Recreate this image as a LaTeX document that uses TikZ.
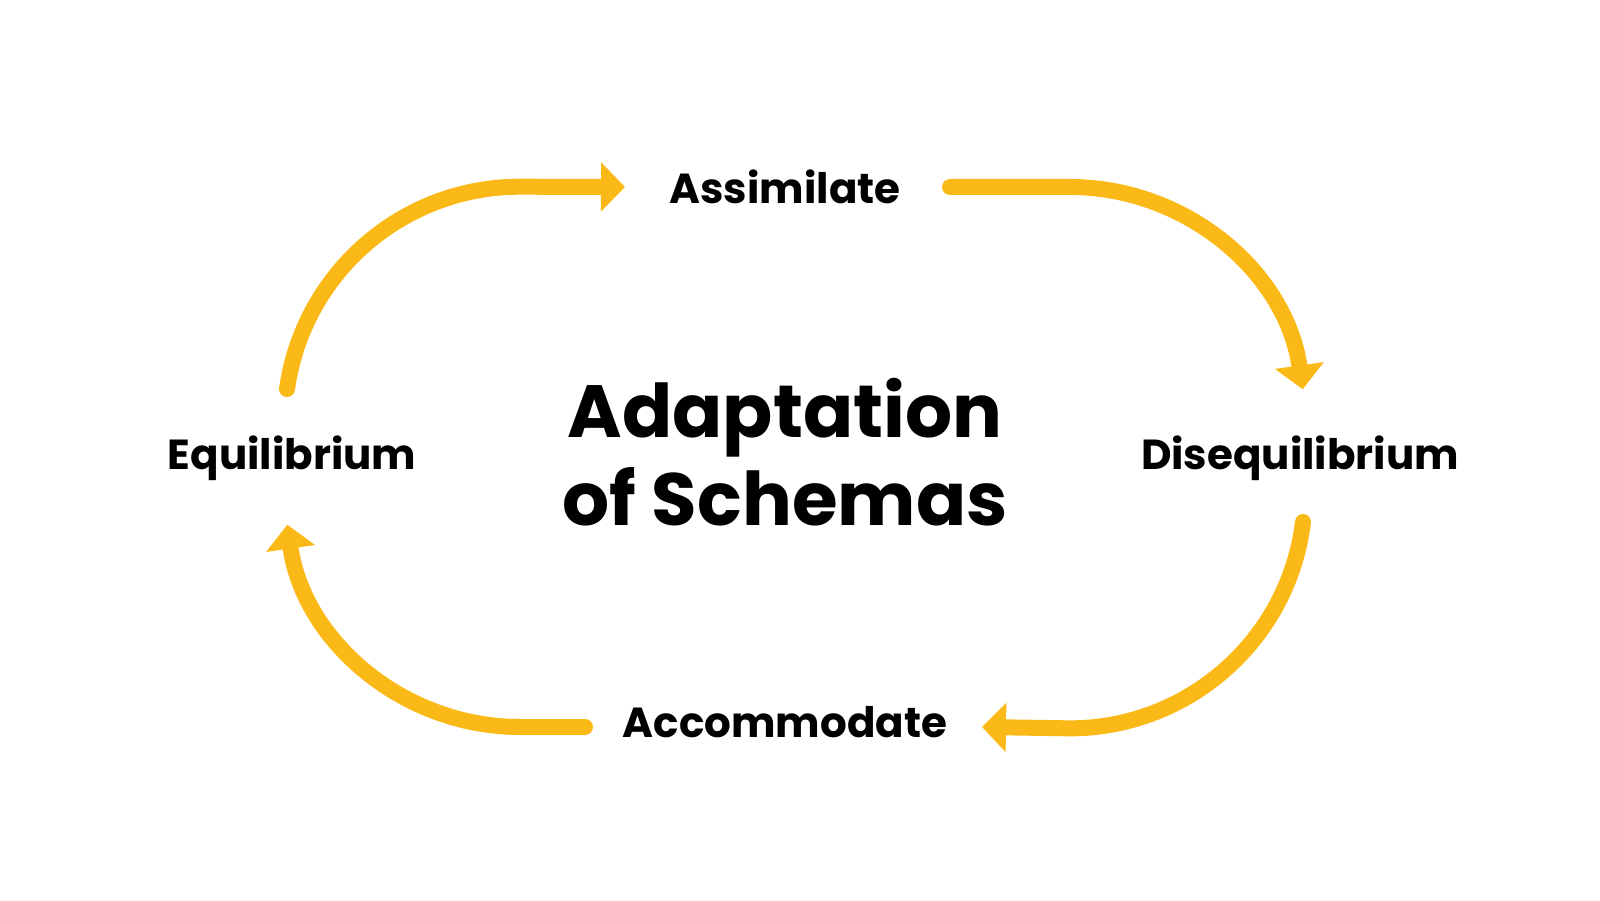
\documentclass[tikz,border=0pt]{standalone}
\usepackage{fontspec}
\setmainfont{Poppins}
\usetikzlibrary{arrows.meta}
\definecolor{ylw}{HTML}{FBB917}
\tikzset{cyc/.style={draw=ylw,line width=8pt,line cap=round},
 tip/.style={-{Triangle[width=24pt,length=12pt]}},
 lbl/.style={font=\bfseries\fontsize{21}{25}\selectfont,text=black}}
\begin{document}
\begin{tikzpicture}[x=0.5pt,y=0.5pt]
\useasboundingbox (0,0) rectangle (1600,900);
\node[lbl] (as) at (785,713) {Assimilate};
\node[lbl] (ac) at (785,178) {Accommodate};
\node[lbl] (eq) at (292,442) {Equilibrium};
\node[lbl] (di) at (1300,442) {Disequilibrium};
\node[font=\bfseries\fontsize{37}{44}\selectfont,align=center] (ti) at (785,448) {Adaptation\\of Schemas};
\coordinate (a1) at (287,511);
\coordinate (t1) at (625,713);
\coordinate (a2) at (950,713);
\coordinate (a3) at (1303,378);
\coordinate (t3) at (982,173);
\coordinate (a4) at (585,173);
\draw[cyc,tip] (a1) arc[start angle=172,end angle=90,radius=235] -- (t1);
\draw[cyc,tip] (a2) -- ++(120,0) arc[start angle=90,end angle=8,radius=235];
\draw[cyc,tip] (a3) arc[start angle=-7,end angle=-90,radius=235] -- (t3);
\draw[cyc,tip] (a4) -- ++(-65,0) arc[start angle=-90,end angle=-172,radius=235];
\end{tikzpicture}
\end{document}
